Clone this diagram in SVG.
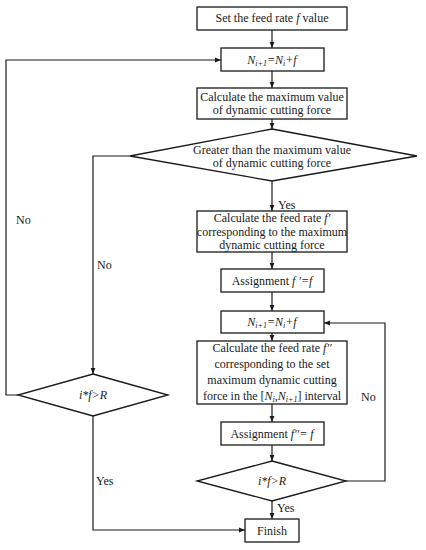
<svg xmlns="http://www.w3.org/2000/svg" width="426" height="550" viewBox="0 0 426 550">
<style>
.n{fill:#fff;stroke:#1a1a1a;stroke-width:1.3}
.c{fill:none;stroke:#1a1a1a;stroke-width:1.2}
text{font-family:"Liberation Serif","Times New Roman",serif;font-size:12px;fill:#1a1a1a}
.m{text-anchor:middle}
.i{font-style:italic}
.s{font-size:8px}
</style>
<defs>
<marker id="a" viewBox="0 0 10 10" refX="10" refY="5" markerWidth="6" markerHeight="6" orient="auto" markerUnits="userSpaceOnUse">
<path d="M0,1 L10,5 L0,9 z" fill="#1a1a1a"/>
</marker>
</defs>
<rect width="426" height="550" fill="#fff"/>
<g id="connectors">
<path class="c" d="M272,30 V48" marker-end="url(#a)"/>
<path class="c" d="M272,71 V88" marker-end="url(#a)"/>
<path class="c" d="M272,119 V129" marker-end="url(#a)"/>
<path class="c" d="M272,181 V211" marker-end="url(#a)"/>
<path class="c" d="M130,156 H93 V374" marker-end="url(#a)"/>
<path class="c" d="M272,252 V269" marker-end="url(#a)"/>
<path class="c" d="M272,292 V311" marker-end="url(#a)"/>
<path class="c" d="M272,333 V341" marker-end="url(#a)"/>
<path class="c" d="M272,404 V422" marker-end="url(#a)"/>
<path class="c" d="M272,445 V461" marker-end="url(#a)"/>
<path class="c" d="M272,501 V519" marker-end="url(#a)"/>
<path class="c" d="M346,481 H385 V323 H324" marker-end="url(#a)"/>
<path class="c" d="M18,395 H6 V60 H221" marker-end="url(#a)"/>
<path class="c" d="M93,416 V530 H245" marker-end="url(#a)"/>
<text x="278" y="209">Yes</text>
<text x="277" y="512">Yes</text>
<text x="96" y="485">Yes</text>
<text x="16" y="224">No</text>
<text x="97" y="269">No</text>
<text x="361" y="401">No</text>
</g>
<g id="n1">
<rect class="n" x="197" y="7" width="150" height="23"/>
<text class="m" x="272" y="22">Set the feed rate <tspan class="i">f</tspan> value</text>
</g>
<g id="n2">
<rect class="n" x="221" y="48" width="103" height="23"/>
<text class="m i" x="272" y="64" font-size="11"><tspan>N</tspan><tspan class="s" dy="2">i+1</tspan><tspan dy="-2">=N</tspan><tspan class="s" dy="2">i</tspan><tspan dy="-2">+f</tspan></text>
</g>
<g id="n3">
<rect class="n" x="197" y="88" width="150" height="31"/>
<text class="m" x="272" y="101">Calculate the maximum value</text>
<text class="m" x="272" y="114">of dynamic cutting force</text>
</g>
<g id="n4">
<polygon class="n" points="272,129 417,156 272,181 130,156"/>
<text class="m" x="272" y="154">Greater than the maximum value</text>
<text class="m" x="272" y="167">of dynamic cutting force</text>
</g>
<g id="n5">
<rect class="n" x="197" y="211" width="150" height="41"/>
<text class="m" x="272" y="222">Calculate the feed rate <tspan class="i">f'</tspan></text>
<text class="m" x="272" y="236">corresponding to the maximum</text>
<text class="m" x="272" y="249">dynamic cutting force</text>
</g>
<g id="n6">
<rect class="n" x="221" y="269" width="103" height="23"/>
<text class="m" x="272" y="285">Assignment <tspan class="i">f '=f</tspan></text>
</g>
<g id="n7">
<rect class="n" x="221" y="311" width="103" height="22"/>
<text class="m i" x="272" y="326" font-size="11"><tspan>N</tspan><tspan class="s" dy="2">i+1</tspan><tspan dy="-2">=N</tspan><tspan class="s" dy="2">i</tspan><tspan dy="-2">+f</tspan></text>
</g>
<g id="n8">
<rect class="n" x="197" y="341" width="150" height="63"/>
<text class="m" x="272" y="352">Calculate the feed rate <tspan class="i">f''</tspan></text>
<text class="m" x="272" y="368">corresponding to the set</text>
<text class="m" x="272" y="384">maximum dynamic cutting</text>
<text class="m" x="272" y="400">force in the [<tspan class="i">N</tspan><tspan class="s i" dy="2">i</tspan><tspan dy="-2">,</tspan><tspan class="i">N</tspan><tspan class="s i" dy="2">i+1</tspan><tspan dy="-2">] interval</tspan></text>
</g>
<g id="n9">
<rect class="n" x="221" y="422" width="103" height="23"/>
<text class="m" x="272" y="438">Assignment <tspan class="i">f''= f</tspan></text>
</g>
<g id="n10">
<polygon class="n" points="272,461 346,481 272,501 197,481"/>
<text class="m i" x="272" y="485">i*f&gt;R</text>
</g>
<g id="n11">
<polygon class="n" points="93,374 168,395 93,416 18,395"/>
<text class="m i" x="93" y="399">i*f&gt;R</text>
</g>
<g id="n12">
<rect class="n" x="245" y="519" width="54" height="23"/>
<text class="m" x="272" y="535">Finish</text>
</g>
</svg>
